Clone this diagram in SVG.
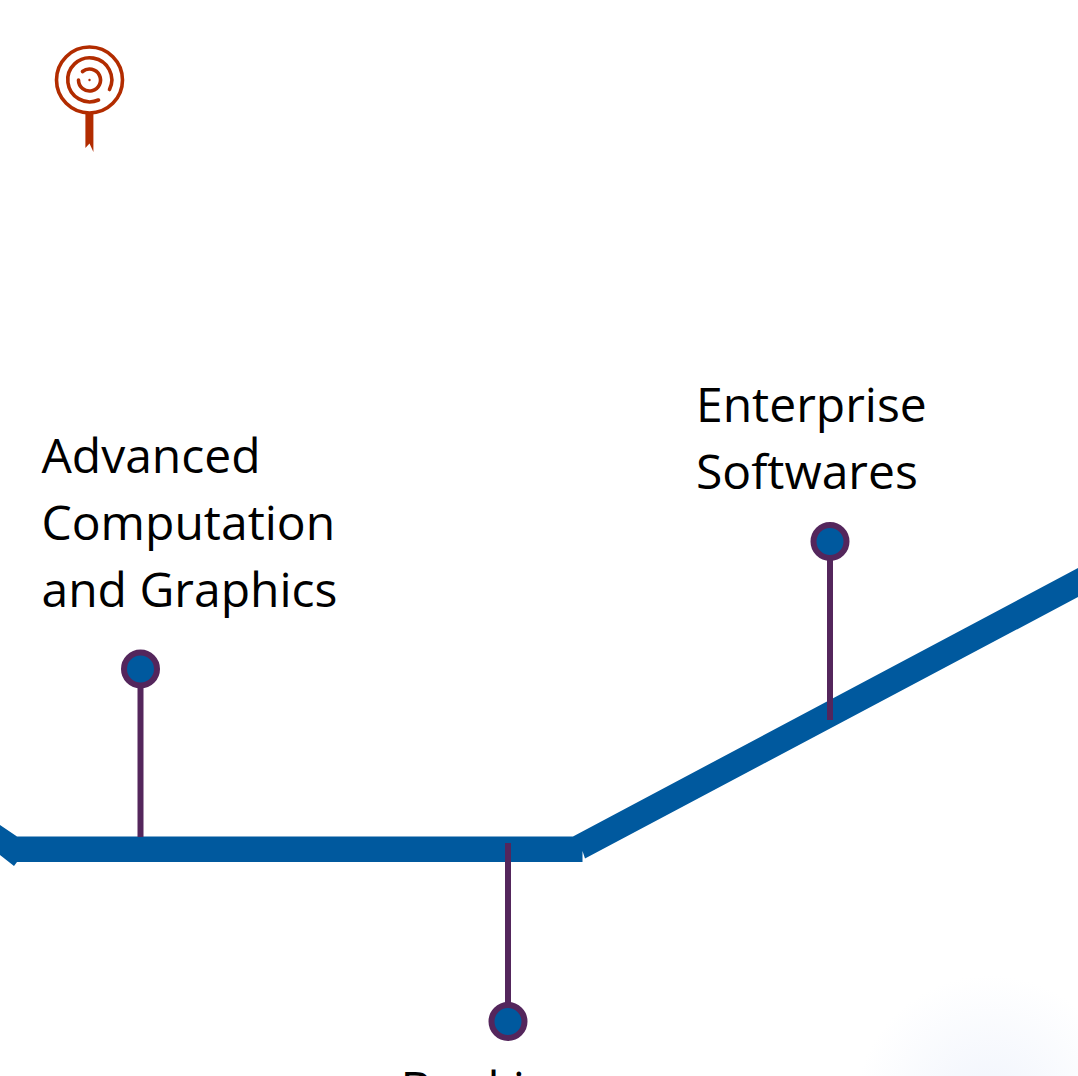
<svg xmlns="http://www.w3.org/2000/svg" width="1078" height="1076" viewBox="0 0 1078 1076">
<style>
.band{fill:#00599e}
.stem{stroke:#54265c;stroke-width:6;fill:none}
.dot{fill:#00599e;stroke:#54265c;stroke-width:6}
.label{font-family:"Open Sans",sans-serif;font-size:48px;fill:#000}
.ic{fill:none;stroke:#b22c00;stroke-width:3.6;stroke-linecap:round}
</style>
<defs>
<radialGradient id="glow" cx="990" cy="1110" r="135" gradientUnits="userSpaceOnUse">
<stop offset="0" stop-color="#f0f4fc"/>
<stop offset="1" stop-color="#ffffff"/>
</radialGradient>
</defs>
<rect width="1078" height="1076" fill="#fff"/>
<rect x="855" y="975" width="223" height="101" fill="url(#glow)"/>
<g id="icon">
<circle class="ic" cx="89.500" cy="80" r="33"/>
<path class="ic" d="M109.500 89.500A22 22 0 1 0 98.500 100"/>
<path class="ic" d="M82.500 71.500A11 11 0 1 1 78.500 80"/>
<circle cx="89.500" cy="80" r="1.200" fill="#b22c00"/>
<path d="M85.400 113H93.400V152L89.500 143.500L85.400 148Z" fill="#b22c00"/>
</g>
<g id="connectors">
<path class="band" d="M0 825L17 836.500H573L1078 568V597L585 858.500L582.500 851V862H17L14 866L0 855Z"/>
<path class="stem" d="M140.500 668V837"/>
<path class="stem" d="M508 843V1021"/>
<path class="stem" d="M830 541V720"/>
</g>
<g id="node-advanced">
<circle class="dot" cx="140.500" cy="669" r="16.500"/>
<text class="label" x="41.500" y="472.500">Advanced</text>
<text class="label" x="41.500" y="540">Computation</text>
<text class="label" x="41.500" y="607">and Graphics</text>
</g>
<g id="node-banking">
<circle class="dot" cx="508" cy="1021.500" r="16.500"/>
<text class="label" x="400.500" y="1106">Banking</text>
</g>
<g id="node-enterprise">
<circle class="dot" cx="830" cy="541.500" r="16.500"/>
<text class="label" x="696" y="422">Enterprise</text>
<text class="label" x="696" y="489">Softwares</text>
</g>
</svg>
